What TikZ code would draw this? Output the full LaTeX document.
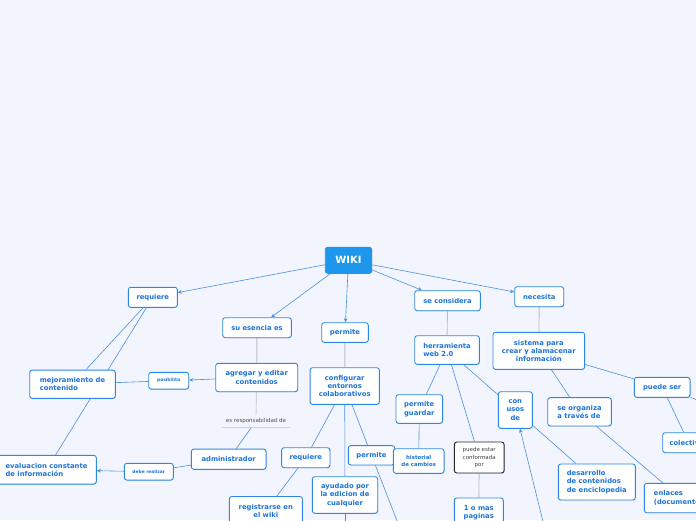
\documentclass[tikz,border=0pt]{standalone}
\usepackage{fontspec}
\setmainfont{DejaVu Sans}
\usetikzlibrary{arrows.meta,shadows}

\definecolor{mmbg}{RGB}{242,245,253}
\definecolor{mmroot}{RGB}{30,150,235}
\definecolor{mmborder}{RGB}{45,135,228}
\definecolor{mmtext}{RGB}{30,115,214}
\definecolor{mmline}{RGB}{74,144,226}
\definecolor{mmgray}{RGB}{190,190,190}

\pgfdeclarelayer{bg}
\pgfsetlayers{bg,main}

\begin{document}
\begin{tikzpicture}[x=1pt,y=-1pt,
  topic/.style={draw=mmborder, line width=0.9pt, fill=white, rounded corners=2.5pt, text=mmtext,
    font=\fontsize{6.8}{8.3}\selectfont\bfseries, inner xsep=2pt, inner ysep=1pt,
    drop shadow={opacity=0.2, shadow xshift=0.5pt, shadow yshift=-0.7pt}},
  tiny/.style={topic, font=\fontsize{4.4}{6.5}\selectfont\bfseries},
  note/.style={topic, draw=black!85, text=black!75, font=\fontsize{5.5}{7.3}\selectfont},
  link/.style={mmline, line width=0.6pt},
  tip/.style={link, -{Stealth[length=4pt,width=3.6pt]}},
  stem/.style={mmgray, line width=0.9pt}]
\useasboundingbox (0,0) rectangle (696,520);
\begin{pgfonlayer}{bg}
\fill[mmbg] (0,0) rectangle (696,520); % page
\end{pgfonlayer}

\node[topic, fill=mmroot, draw=mmroot, text=white, font=\fontsize{10}{12}\selectfont\bfseries, minimum width=46.5pt, minimum height=26pt] (wiki) at (348.5,260.3) {WIKI}; % root

% left side
\node[topic, minimum width=49pt, minimum height=20pt] (req1) at (152.8,297.3) {requiere};
\node[topic, minimum width=68.6pt, minimum height=20pt] (esencia) at (257,327.7) {su esencia es};
\node[topic, align=center, minimum width=82pt, minimum height=28.4pt] (agregar) at (256.7,377.5) {agregar y editar\\contenidos};
\node[tiny, minimum width=40pt, minimum height=16.7pt] (posib) at (168.7,380.7) {posibilita};
\node[topic, align=left, minimum width=85.6pt, minimum height=28.3pt] (mejora) at (72.5,384.2) {mejoramiento de\\contenido};
\node[text=black!70, font=\fontsize{5.5}{7}\selectfont, minimum width=68.3pt, minimum height=12.6pt, inner sep=0pt] (resp) at (256,421) {es responsabilidad de};
\draw[mmgray!70, line width=0.8pt] (resp.south west) -- (resp.south east); % underline
\node[topic, minimum width=74.7pt, minimum height=20.3pt] (admin) at (228.7,459.2) {administrador};
\node[tiny, minimum width=49pt, minimum height=16.7pt] (debe) at (148.8,471.7) {debe realizar};
\node[topic, align=left, minimum width=99.6pt, minimum height=28.7pt] (evalua) at (46.5,469.7) {evaluacion constante\\de información};

% middle
\node[topic, minimum width=46.6pt, minimum height=19.6pt] (perm1) at (345,332.5) {permite};
\node[topic, align=center, minimum width=69.3pt, minimum height=36.6pt] (config) at (344.7,386) {configurar\\entornos\\colaborativos};
\node[topic, minimum width=48.3pt, minimum height=20pt] (req2) at (305.8,457.7) {requiere};
\node[topic, minimum width=46.4pt, minimum height=19.3pt] (perm2) at (371.5,455.3) {permite};
\node[topic, align=center, minimum width=65.4pt, minimum height=36.6pt] (ayudado) at (345,495) {ayudado por\\la edicion de\\cualquier};
\node[topic, align=center, minimum width=73pt, minimum height=28.4pt] (registro) at (265.8,510.7) {registrarse en\\el wiki};

% right side
\node[topic, minimum width=65.6pt, minimum height=20pt] (consid) at (447.5,300.7) {se considera};
\node[topic, align=left, minimum width=64.6pt, minimum height=28.6pt] (herram) at (447,350) {herramienta\\web 2.0};
\node[topic, align=center, minimum width=46.7pt, minimum height=28.6pt] (guardar) at (419.3,409) {permite\\guardar};
\node[tiny, align=center, font=\fontsize{5.4}{7}\selectfont\bfseries, minimum width=50.7pt, minimum height=24.6pt] (historial) at (418.7,461) {historial\\de cambios};
\node[note, align=center, minimum width=49.7pt, minimum height=31pt] (conform) at (479.2,457.5) {puede estar\\conformada\\por};
\node[topic, align=center, minimum width=49pt, minimum height=30pt] (paginas) at (478.8,513) {1 o mas\\paginas};
\node[topic, align=center, minimum width=34pt, minimum height=36.6pt] (usos) at (515.3,410) {con\\usos\\de};
\node[topic, minimum width=49pt, minimum height=20pt] (necesita) at (539.2,296.7) {necesita};
\node[topic, align=center, minimum width=91.7pt, minimum height=37pt] (sistema) at (538.8,350.8) {sistema para\\crear y alamacenar\\información};
\node[topic, align=left, minimum width=63.6pt, minimum height=28.3pt] (organiza) at (579.5,411.8) {se organiza\\a través de};
\node[topic, align=left, minimum width=77pt, minimum height=36pt] (desarr) at (596.8,482) {desarrollo\\de contenidos\\de enciclopedia};
\node[topic, minimum width=55.7pt, minimum height=20pt] (puedeser) at (662.2,387.3) {puede ser};
\node[topic, minimum width=52pt, minimum height=20pt] (colect) at (688.7,442.7) {colectivas};
\node[topic, align=left, minimum width=72.4pt, minimum height=29.4pt] (enlaces) at (680.5,498) {enlaces\\(documentos)};

\coordinate (offA) at (345,530); % below the page
\coordinate (offB) at (400.6,530);
\coordinate (offC) at (545.1,530);
\coordinate (offD) at (730,411.7);

\begin{pgfonlayer}{bg}
\draw[tip] (wiki) -- (req1);
\draw[tip] (wiki) -- (esencia);
\draw[tip] (wiki) -- (perm1);
\draw[tip] (wiki) -- (consid);
\draw[tip] (wiki) -- (necesita);
\draw[link] (req1) -- (mejora);
\draw[link] (req1) -- (evalua); % runs behind mejora
\draw[stem] (esencia) -- (agregar);
\draw[tip] (agregar) -- (posib);
\draw[link] (posib) -- (mejora);
\draw[stem, mmgray!70] (agregar) -- (resp);
\draw[link] (resp) -- (admin);
\draw[link] (admin) -- (debe);
\draw[tip] (debe) -- (evalua);
\draw[stem] (perm1) -- (config);
\draw[link] (config) -- (req2);
\draw[link] (config) -- (ayudado);
\draw[link] (config) -- (perm2);
\draw[link] (req2) -- (registro);
\draw[link] (ayudado) -- (offA);
\draw[link] (perm2) -- (offB);
\draw[stem] (consid) -- (herram);
\draw[stem] (necesita) -- (sistema);
\draw[link] (herram) -- (guardar);
\draw[link] (herram) -- (conform);
\draw[link] (herram) -- (usos);
\draw[link] (guardar) -- (historial);
\draw[stem] (conform) -- (paginas);
\draw[link] (sistema) -- (organiza);
\draw[link] (sistema) -- (puedeser);
\draw[link] (puedeser) -- (colect);
\draw[link] (puedeser) -- (offD);
\draw[link] (organiza) -- (enlaces);
\draw[link] (usos) -- (desarr);
\draw[tip] (offC) -- (usos);
\end{pgfonlayer}
\end{tikzpicture}
\end{document}
